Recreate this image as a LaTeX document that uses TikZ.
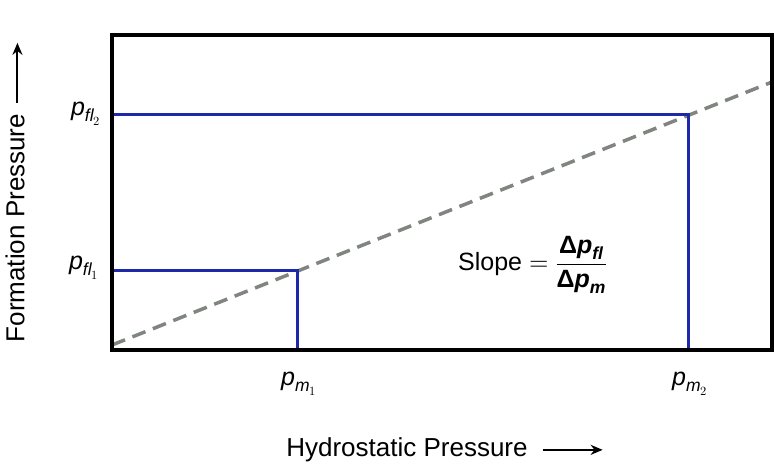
\documentclass[tikz,border=0pt]{standalone}
\usetikzlibrary{arrows.meta}
\usepackage{fontspec}
\setmainfont{Liberation Sans}
\usepackage{unicode-math}
\setmathfont{Latin Modern Math}
\setmathfont[range={it/{latin,Latin}}]{Liberation Sans Italic}
\setmathfont[range={bfit/{latin,Latin}}]{Liberation Sans Bold Italic}
\newcommand{\myarrow}{\tikz[baseline=-0.5ex]\draw[-{Stealth[length=12pt,width=10pt]},line width=2pt] (0,0) -- (60pt,0);}
\begin{document}
\begin{tikzpicture}[x=1pt,y=-1pt,
  blue line/.style={draw={rgb,255:red,30;green,40;blue,170},line width=3pt},
  lbl/.style={font=\fontsize{25}{28}\selectfont,inner sep=0pt}]
\useasboundingbox (0,0) rectangle (774,468);
\coordinate (tl) at (112,35); \coordinate (br) at (772,350);
\coordinate (d1) at (112,345); \coordinate (d2) at (772,82);
\draw[draw={rgb,255:red,128;green,133;blue,128},line width=3.5pt,dash pattern=on 14pt off 8pt] (d1) -- (d2);
\coordinate (a1) at (112,270); \coordinate (a2) at (297,270); \coordinate (a3) at (297,350);
\coordinate (b1) at (112,115); \coordinate (b2) at (688,115); \coordinate (b3) at (688,350);
\draw[blue line] (a1) -- (a2) -- (a3);
\draw[blue line] (b1) -- (b2) -- (b3);
\draw[line width=4pt] (tl) rectangle (br);
\node[lbl] (pf2) at (86,114) {$p_{fl_2}$};
\node[lbl] (pf1) at (84,268) {$p_{fl_1}$};
\node[lbl] (pm1) at (299,384) {$p_{m_1}$};
\node[lbl] (pm2) at (690,384) {$p_{m_2}$};
\node[lbl,anchor=west] (slope) at (458,265) {Slope $=\dfrac{\text{\bfseries Δ}\boldsymbol{p_{fl}}}{\text{\bfseries Δ}\boldsymbol{p_m}}$};
\node[lbl,font=\fontsize{26}{28}\selectfont] (hx) at (445,450) {Hydrostatic Pressure\hspace{14pt}\myarrow};
\node[lbl,font=\fontsize{26}{28}\selectfont,rotate=90] (fy) at (15,192) {Formation Pressure\hspace{10pt}\myarrow};
\end{tikzpicture}
\end{document}
